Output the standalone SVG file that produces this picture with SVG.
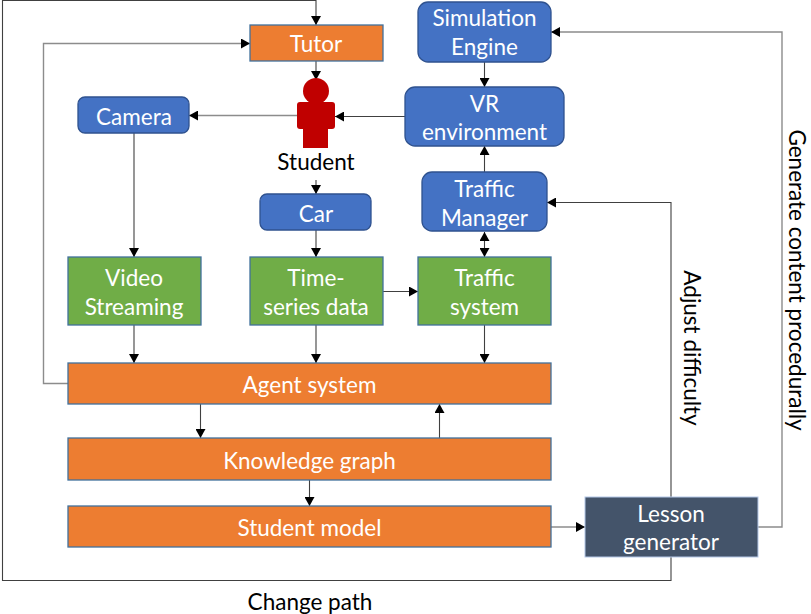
<svg xmlns="http://www.w3.org/2000/svg" width="811" height="614" viewBox="0 0 811 614">
<style>
text{font-family:"Lato","Liberation Sans",sans-serif;font-size:22.5px;text-anchor:middle}
.w{fill:#fff}
.k{fill:#000}
.o{fill:#ed7d31;stroke:#41719c;stroke-width:1.3}
.b{fill:#4472c4;stroke:#2f528f;stroke-width:1.3}
.g{fill:#70ad47;stroke:#41719c;stroke-width:1.3}
.d{fill:#44546a;stroke:#b4c7e7;stroke-width:1}
.c{fill:none;stroke:#404040;stroke-width:1.1}
.l{fill:none;stroke:#8c8c8c;stroke-width:1.4}
</style>
<defs>
<marker id="a" markerUnits="userSpaceOnUse" markerWidth="9" markerHeight="10" refX="9" refY="5" orient="auto-start-reverse"><path d="M0 0L9 5L0 10Z" fill="#000"/></marker>
</defs>
<g id="connectors">
<path class="c" marker-end="url(#a)" d="M671 557V580.500H2.500V0.500H316V25"/>
<path class="c" marker-end="url(#a)" d="M671 497V202.500H547"/>
<path class="l" marker-end="url(#a)" d="M758 527H782V32H551"/>
<path class="l" marker-end="url(#a)" d="M68 383.500H43.500V43.500H250"/>
<path class="c" marker-end="url(#a)" d="M316 61V80"/>
<path class="c" marker-end="url(#a)" d="M484.500 62V87"/>
<path class="c" marker-end="url(#a)" d="M405 116.500H335"/>
<path class="l" marker-end="url(#a)" d="M297 115.500H189"/>
<path class="c" marker-end="url(#a)" d="M484.500 172V146"/>
<path class="c" marker-end="url(#a)" marker-start="url(#a)" d="M484.500 232V257"/>
<path class="c" marker-end="url(#a)" d="M316 180V194"/>
<path class="c" marker-end="url(#a)" d="M316 230V257"/>
<path class="c" marker-end="url(#a)" d="M134 133V257"/>
<path class="c" marker-end="url(#a)" d="M383 291.500H418"/>
<path class="c" marker-end="url(#a)" d="M134 325V363"/>
<path class="c" marker-end="url(#a)" d="M316 325V363"/>
<path class="c" marker-end="url(#a)" d="M484.500 325V363"/>
<path class="c" marker-end="url(#a)" d="M200.500 404V438"/>
<path class="c" marker-end="url(#a)" d="M439.500 438V404"/>
<path class="c" marker-end="url(#a)" d="M309.500 480V506"/>
<path class="l" marker-end="url(#a)" d="M551 527H585"/>
</g>
<g id="tutor"><rect class="o" x="250" y="25" width="133" height="36"/><text class="w" x="316" y="52">Tutor</text></g>
<g id="simulation-engine"><rect class="b" x="418" y="2" width="133" height="60" rx="10"/><text class="w" x="484.500" y="26">Simulation</text><text class="w" x="484.500" y="55">Engine</text></g>
<g id="vr-environment"><rect class="b" x="405" y="87" width="159" height="59" rx="10"/><text class="w" x="484.500" y="112">VR</text><text class="w" x="484.500" y="140">environment</text></g>
<g id="student"><circle cx="316" cy="91" r="13" fill="#c00000"/><rect x="297" y="102" width="38" height="27" rx="3" fill="#c00000"/><rect x="303" y="110" width="25" height="38" fill="#c00000"/><text class="k" x="316" y="170">Student</text></g>
<g id="camera"><rect class="b" x="78" y="97" width="111" height="36" rx="7"/><text class="w" x="134" y="125">Camera</text></g>
<g id="car"><rect class="b" x="260" y="194" width="111" height="36" rx="7"/><text class="w" x="316" y="222">Car</text></g>
<g id="traffic-manager"><rect class="b" x="422" y="172" width="125" height="59" rx="10"/><text class="w" x="484.500" y="197">Traffic</text><text class="w" x="484.500" y="226">Manager</text></g>
<g id="video-streaming"><rect class="g" x="68" y="257" width="133" height="68"/><text class="w" x="134" y="286">Video</text><text class="w" x="134" y="315">Streaming</text></g>
<g id="time-series"><rect class="g" x="250" y="257" width="133" height="68"/><text class="w" x="316" y="286">Time-</text><text class="w" x="316" y="315">series data</text></g>
<g id="traffic-system"><rect class="g" x="418" y="257" width="133" height="68"/><text class="w" x="484.500" y="286">Traffic</text><text class="w" x="484.500" y="315">system</text></g>
<g id="agent-system"><rect class="o" x="68" y="363" width="483" height="41"/><text class="w" x="309.500" y="393">Agent system</text></g>
<g id="knowledge-graph"><rect class="o" x="68" y="438" width="483" height="42"/><text class="w" x="309.500" y="469">Knowledge graph</text></g>
<g id="student-model"><rect class="o" x="68" y="506" width="483" height="41"/><text class="w" x="309.500" y="536">Student model</text></g>
<g id="lesson-generator"><rect class="d" x="585" y="497" width="173" height="60"/><text class="w" x="671" y="522">Lesson</text><text class="w" x="671" y="550">generator</text></g>
<g id="labels">
<text class="k" x="310" y="610">Change path</text>
<text class="k" transform="translate(684 348) rotate(90)">Adjust difficulty</text>
<text class="k" transform="translate(789 280) rotate(90)">Generate content procedurally</text>
</g>
</svg>
